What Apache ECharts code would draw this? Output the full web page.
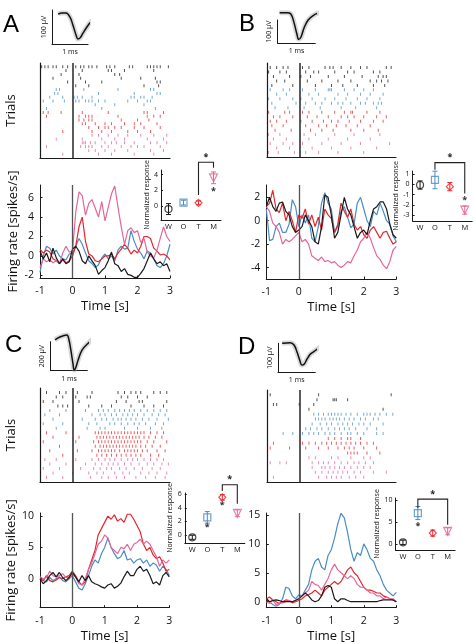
<!DOCTYPE html>
<html><head><meta charset="utf-8">
<script src="https://cdn.jsdelivr.net/npm/echarts@6/dist/echarts.min.js"></script>
<style>html,body{margin:0;padding:0;background:#fff}#c{width:474px;height:644px}</style>
</head><body><div id="c"></div>
<script>
// ---------------- DATA ----------------
const timeAxis = [-1,-0.9,-0.8,-0.7,-0.6,-0.5,-0.4,-0.3,-0.2,-0.1,0,0.1,0.2,0.3,0.4,0.5,0.6,0.7,0.8,0.9,1,1.1,1.2,1.3,1.4,1.5,1.6,1.7,1.8,1.9,2,2.1,2.2,2.3,2.4,2.5,2.6,2.7,2.8,2.9,3];
const xTickLabels = [-1,0,1,2,3];
const catLabels = ['W','O','T','M'];

// firing rates (spikes/s) per condition: W (black), O (blue), T (red), M (pink)
const aBlack = [0.5,-0.3,0.3,-0.6,0.8,-0.2,-0.8,-0.3,-0.8,-0.6,0.7,1.0,0.5,-0.5,-0.8,0,-0.5,-1.0,-1.9,-1.5,-1.2,-0.5,0.4,-0.8,-1.0,-1.6,-1.3,-1.9,-2.0,-2.2,-2.2,-1.8,-1.3,-0.5,0.3,-0.3,-0.8,-0.6,-1.0,-0.8,-1.6];
const aBlue  = [-1.7,0,1.0,0.8,0.2,0.6,0,-0.3,-0.4,0.2,0.3,1.0,1.8,1.2,0.3,-0.5,-0.8,-1.2,-0.9,-0.2,0.2,-0.3,0,-0.5,0.6,1.0,0.7,0.8,2.6,1.5,0.7,0.3,-0.3,0.5,0.3,-0.3,-1.0,-1.2,-0.8,0,1.2];
const aRed   = [0.7,0.3,0.6,0.4,-0.3,-0.5,-0.8,-0.4,-0.7,-0.5,0,1.0,3.0,4.0,1.5,0.2,0,-0.5,-0.6,-0.3,0,0,0.2,-0.3,0.3,0.7,1.2,0.8,0.2,0.6,0.3,1.0,2.0,2.0,1.8,0.8,0.5,0.1,0.2,0,-0.4];
const aPink  = [-1.2,-0.3,-0.6,-0.4,-0.7,-0.5,-0.8,0.3,1.0,0.4,0.5,4.5,6.6,6.2,4.2,5.4,5.8,4.9,4.0,5.6,3.6,5.0,6.4,7.2,5.0,3.0,1.2,2.6,2.9,2.4,2.6,1.4,1.8,0.4,0,-0.2,0.6,1.8,3.0,2.0,1.5];

const bBlack = [1.2,2.0,1.2,0.8,1.5,1.6,0.8,0.5,-0.5,-1.0,-0.8,-0.5,0.5,0,-0.5,-1.8,-2.0,-0.5,2.2,2.0,0.5,-1.5,-1.0,0.5,2.0,1.0,0.5,-0.5,-1.5,-1.0,-0.8,-1.2,0,1.0,1.2,1.6,1.6,1.0,-0.3,-1.2,-1.5];
const bBlue  = [1.0,-1.7,-1.6,-0.5,-0.2,-1.0,-1.0,-0.3,1.8,1.2,-0.5,0.5,-0.2,0.5,-1.5,-1.8,-0.5,1.5,2.4,1.5,1.0,-1.0,-0.5,0.8,1.2,0.3,-0.6,-0.3,1.5,2.0,1.0,0,-0.5,0.8,0.5,1.5,0.8,0,-0.3,-1.3,-1.8];
const bRed   = [1.2,1.5,2.6,1.0,0.7,1.5,0,0.8,0,-1.0,0.5,0.2,1.0,-0.3,0.5,-0.5,0.3,-0.8,1.0,0.5,0.2,-1.0,-0.3,1.5,0.8,0.3,1.0,-0.3,-0.8,-0.5,-1.2,-1.5,-0.8,-0.5,-1.0,-1.5,-1.0,-0.9,-1.5,-2.0,-1.8];
const bPink  = [1.2,0.8,-0.2,-0.5,-1.0,-2.0,-1.6,-1.8,-1.6,-1.3,-1.0,-1.8,-1.6,-2.0,-3.0,-3.2,-3.4,-3.1,-3.5,-3.4,-3.6,-3.5,-3.8,-4.0,-3.8,-3.5,-3.6,-3.0,-2.5,-1.8,-1.5,-1.0,-1.5,-2.3,-3.0,-3.3,-3.8,-4.1,-3.5,-2.5,-2.2];

const cBlack = [0,-0.8,-0.3,0.5,1.0,0.3,1.0,0.2,-0.3,0.2,1.0,0.3,-0.5,0.5,-0.3,0.5,-0.5,-0.8,-1.0,-1.3,-1.5,-1.0,-0.8,-1.5,-1.2,-0.7,0.3,1.2,0.5,0.5,1.5,2.0,1.2,1.5,0.5,-0.8,-0.5,-1.0,0.5,1.0,0.3];
const cBlue  = [0,-0.3,-0.5,0.2,-0.3,0,0.3,-0.3,-0.5,0,0.5,-0.5,-1.5,-1.8,-0.8,0.5,2.0,3.0,2.5,4.0,5.0,6.5,5.0,4.0,3.2,3.5,4.5,3.0,3.2,2.5,3.0,3.2,2.5,3.0,2.0,2.5,2.2,1.2,2.0,1.5,0.5];
const cRed   = [0,-0.3,0.5,-0.3,-0.5,-0.2,0.2,0,0.3,0.5,1.2,0.5,-0.5,-1.0,-0.5,1.5,3.0,4.5,7.0,8.0,9.0,10.0,9.5,10.2,9.2,9.6,9.0,10.3,10.3,9.5,8.5,7.5,5.5,4.5,5.0,3.8,3.2,3.5,2.5,1.2,1.5];
const cPink  = [0.3,0,0.2,1.2,0.5,0.3,0.5,0.8,0.2,0.2,0.8,0.3,-0.8,-1.0,0,1.5,2.5,4.0,5.5,6.0,7.0,6.5,5.0,4.5,4.0,5.0,4.8,5.5,4.5,5.5,5.8,6.3,5.5,6.0,5.5,4.5,3.5,2.0,3.0,2.5,3.0];

const dBlack = [0.5,0,0.2,0.3,0.2,0,0,0,0,0.2,0.5,1.0,1.5,1.0,0.3,0,0.2,1.0,2.5,2.8,2.5,0.5,0,0.5,0.5,0.2,0,0,0,0,0,0,0,0,0,0.2,0.3,0.3,0.3,0.3,0];
const dBlue  = [0.5,0,-0.5,-0.8,-0.5,0.5,2.5,2.3,1.0,0.5,1.2,1.0,2.0,3.0,5.5,7.0,7.5,6.0,5.5,8.0,9.0,11.0,13.5,15.3,14.5,12.0,9.0,7.0,8.5,8.0,10.0,9.0,7.5,7.0,5.5,4.5,3.0,2.0,1.5,1.0,1.6];
const dRed   = [0.5,0.8,0.3,0,-0.3,0,0.3,0.2,-0.2,0,0.2,0.5,1.0,1.2,1.5,2.0,1.5,1.0,2.0,2.5,3.0,3.5,3.0,3.5,4.5,5.5,6.0,5.0,4.5,3.5,2.5,2.0,2.0,1.8,1.5,1.5,1.0,0.8,0.5,0.3,0];
const dPink  = [0,-0.3,0.3,-0.5,-0.3,-0.2,0,0.2,0,0.3,0.5,1.0,1.5,2.0,3.5,3.0,2.8,2.0,3.0,4.0,5.5,6.5,5.5,5.0,4.5,4.0,4.5,4.0,3.0,2.5,2.5,2.0,1.5,1.5,1.0,1.0,0.5,0.8,0.5,0.5,0];

// y tick labels of the firing-rate panels
const aYTicks = [-2,0,2,4,6];
const bYTicks = [-4,-2,0,2];
const cYTicks = [0,5,10];
const dYTicks = [0,5,10,15];

// normalized responses (mean, s.e.m.), stars, significance bracket [from, to, top, leftEnd, rightEnd]
const aNormMean = [-0.4,0.43,0.4,3.6];
const aNormErr  = [0.7,0.3,0.25,0.75];
const aNormStar = [null,null,null,1.9];
const aBracket  = [2,3,5.6,1.4,4.9];
const aNormTicks = [0,2,4];

const bNormMean = [-0.07,0.42,-0.23,-2.5];
const bNormErr  = [0.4,0.85,0.4,0.4];
const bNormStar = [null,null,null,-1.6];
const bBracket  = [1,3,2.1,1.4,-0.9];
const bNormTicks = [-3,-2,-1,0,1];

const cNormMean = [-0.34,2.6,5.55,3.2];
const cNormErr  = [0.3,0.85,0.4,0.5];
const cNormStar = [null,1.1,4.3,null];
const cBracket  = [2,3,7.4,6.5,4.6];
const cNormTicks = [0,2,4,6];

const dNormMean = [0.37,7.1,2.5,2.9];
const dNormErr  = [0.5,1.5,0.7,0.8];
const dNormStar = [null,4.0,null,null];
const dBracket  = [1,3,10.3,8.3,4.4];
const dNormTicks = [0,5,10];

// mean spike waveforms [ms, µV]
const waveA = [[0.17,-12],[0.28,-9],[0.39,-9],[0.5,-21],[0.58,-44],[0.67,-74],[0.72,-85],[0.78,-82],[0.86,-68],[0.97,-50],[1.08,-35],[1.22,-24],[1.33,-15],[1.47,-12]];
const waveB = [[0.05,31],[0.25,31],[0.35,26],[0.43,-9],[0.51,-60],[0.56,-83],[0.62,-73],[0.70,-34],[0.81,0],[0.96,21],[1.10,30],[1.26,31]];
const waveC = [[0.12,12],[0.25,32],[0.44,46],[0.5,12],[0.55,-57],[0.61,-154],[0.64,-195],[0.68,-181],[0.75,-126],[0.86,-57],[1.03,-9],[1.21,26],[1.39,39]];
const waveD = [[0.11,0],[0.33,2],[0.43,-6],[0.51,-30],[0.59,-61],[0.64,-75],[0.70,-72],[0.78,-54],[0.87,-37],[0.96,-29],[1.07,-18],[1.18,-9],[1.31,-2]];

// spike rasters: one string of spike times (s) per trial
const rasterA_W = ["-0.95 -0.85 -0.75 -0.6 -0.5 -0.3 -0.15 0.1 0.25 0.35 0.5 0.6 0.75 1.05 1.15 1.3 1.75 1.85 2.3 2.4 2.5 2.6 2.7 2.95","-0.2 0.3 1.1 1.2 1.6 2.5","-0.35 0.2 1.3 1.45","-0.6 0.25 1.5 2.1 2.55","-0.15 0.4 0.9 2.6 2.7","0.1 0.5 2.2 2.65"];
const rasterA_O = ["-0.5 -0.4 0.35 1.4 2.4 2.5","-0.55 -0.45 0.8 1.9 2.6 2.7","-0.7 -0.3 0.05 0.15 0.3 0.6 1.8 1.9 2.1 2.2 2.45","-0.9 -0.6 -0.25 0.1 0.2 0.4 0.5 0.6 0.8 1.0 1.7 2.0 2.3 2.4","0.7 1.3 2.2","-0.8 0.9 2.55"];
const rasterA_T = ["-0.9 -0.75 -0.35 0.3 1.1 2.2 2.3 2.8","-0.8 0.2 0.4 0.5 0.6 1.4 2.3 2.5 2.7","0.2 0.35 0.5 0.6 1.5 2.0 2.35","0.3 0.4 0.7 1.0 1.2 1.6 1.9 2.1 2.6","0.5 0.8 1.0 1.1 1.3 1.5 1.9 2.2 2.7","-0.3 0.6 0.9 1.2 1.7 2.0 2.4"];
const rasterA_M = ["0.6 0.8 1.1 1.4 1.7 2.1 2.5 2.9","-0.5 0.3 0.9 1.3 1.6 2.3 2.8","0.3 0.35 0.4 0.55 0.7 1.0 1.2 1.35 1.6 1.9 2.4 2.6 2.9","-0.8 0.25 0.4 0.5 0.6 0.9 1.1 1.5 1.8 2.0 2.2 2.7","0.5 0.7 1.0 1.3 1.7 2.4 2.8","-0.3 0.8 1.2 1.9 2.5"];

const rasterB_W = ["-0.9 -0.7 -0.5 -0.35 0.1 0.3 0.8 0.95 1.05 1.3 1.6 1.9 2.1 2.7 2.85","-0.95 -0.6 -0.4 0.2 0.45 0.6 1.1 1.5 1.7 2.3 2.5","-0.8 -0.3 0.05 0.35 0.9 1.4 1.95 2.45 2.6 2.7","-0.7 -0.45 0.25 0.7 1.2 1.6 2.2 2.4 2.55 2.75","-0.85 -0.2 0.5 1.0 1.35 1.8 2.3 2.65"];
const rasterB_O = ["-0.9 -0.5 -0.3 0.1 0.5 0.9 0.95 1.0 1.4 1.7 2.0 2.3","-0.7 -0.4 0.3 0.6 1.2 1.5 1.9 2.2 2.6","-0.95 -0.6 -0.2 0.05 0.4 0.8 1.1 1.45 1.8 2.1 2.5","-0.85 -0.1 0.2 0.5 0.7 1.0 1.2 1.35 1.6 1.9 2.05 2.3 2.45 2.55","-0.75 -0.35 0.15 0.65 1.3 1.75 2.4"];
const rasterB_T = ["-0.95 -0.45 -0.3 0.1 0.3 0.7 1.1 1.4 1.6 1.65 2.1 2.5","-0.8 -0.6 -0.2 0.25 0.55 0.9 1.3 1.5 1.7 2.0 2.4 2.7","-0.9 -0.7 -0.4 0.05 0.4 0.75 1.0 1.2 1.55 1.9 2.3 2.6","-0.85 -0.5 0.2 0.6 0.85 1.15 1.45 1.8 2.2","-0.75 -0.25 0.35 0.7 1.05 1.6 2.0 2.45"];
const rasterB_M = ["-0.95 -0.6 0.15 0.5 1.1 1.7 2.5","-0.8 -0.4 0.3 0.9 1.5 2.2","-0.9 -0.5 -0.2 0.1 0.7 1.3 1.9 2.8","-0.7 -0.3 0.4 1.0 1.6 2.4","-0.95 -0.65 -0.15 0.2 0.6 1.2 2.0"];

const rasterC_W = ["-0.8 -0.4 -0.2 0.15 0.6 1.4 1.6 1.8 1.95 2.1 2.5 2.7 2.9","-0.5 -0.3 0.1 0.45 0.55 1.5 1.7 2.0 2.3","-0.9 -0.6 0.2 1.35 1.65 2.05 2.15 2.9","-0.45 -0.3 -0.15 0.5 0.9 1.2 1.8 2.2 2.5 2.8"];
const rasterC_O = ["-0.7 -0.2 0.4 0.8 0.95 1.1 1.3 1.45 1.6 1.75 1.9 2.1 2.3 2.5 2.7 2.9","-0.85 -0.4 0.6 0.85 1.0 1.2 1.35 1.55 1.7 1.85 2.0 2.2 2.45 2.65 2.85","-0.6 0.3 0.7 0.9 1.05 1.25 1.4 1.5 1.65 1.8 1.95 2.15 2.35 2.6 2.95","-0.9 -0.3 0.5 0.75 1.15 1.3 1.5 1.7 1.9 2.05 2.25 2.55 2.8","-0.5 0.45 0.85 1.0 1.6 2.0 2.4 2.75"];
const rasterC_T = ["-0.8 -0.2 0.7 0.8 0.9 1.0 1.1 1.2 1.3 1.4 1.5 1.6 1.7 1.8 1.9 2.0 2.1 2.2 2.4 2.6 2.8","-0.6 0.2 0.75 0.85 0.95 1.05 1.15 1.25 1.35 1.45 1.55 1.65 1.75 1.85 1.95 2.05 2.2 2.35 2.55 2.75","-0.9 0.1 0.65 0.8 0.9 1.0 1.1 1.2 1.3 1.4 1.5 1.6 1.7 1.8 1.9 2.0 2.1 2.3 2.5 2.9","-0.4 0.7 0.85 0.95 1.05 1.15 1.25 1.35 1.45 1.55 1.65 1.75 1.85 1.95 2.1 2.25 2.45 2.7","-0.7 0.15 0.6 0.8 0.9 1.0 1.1 1.2 1.3 1.45 1.6 1.7 1.8 1.9 2.0 2.15 2.3 2.6 2.85","-0.3 0.75 0.9 1.05 1.2 1.35 1.5 1.65 1.8 1.95 2.1 2.4 2.65"];
const rasterC_M = ["-0.85 -0.5 0.1 0.6 0.8 1.0 1.15 1.3 1.5 1.7 1.85 2.0 2.2 2.4 2.6 2.8","-0.7 -0.2 0.4 0.7 0.9 1.1 1.25 1.4 1.6 1.8 2.05 2.3 2.5 2.75 2.95","-0.9 -0.4 0.25 0.65 0.85 1.05 1.2 1.45 1.65 1.9 2.15 2.45 2.7","-0.6 0 0.5 0.75 0.95 1.3 1.55 1.75 2.1 2.35 2.6 2.9","-0.8 -0.3 0.55 0.9 1.1 1.35 1.6 1.95 2.25 2.55 2.85"];

const rasterD_W = ["-0.9 0.6 2.85","0.55 1.05 1.1 1.15 1.5","-0.8 -0.7 0 0.45","0.3 2.6"];
const rasterD_O = ["0.45 0.6 0.75 0.9 1.0 1.1 1.2 1.3 1.45 1.6 1.8 2.0 2.1 2.2 2.35 2.5 2.7 2.9","0.5 0.6 0.7 0.8 0.95 1.05 1.15 1.25 1.4 1.55 1.7 1.9 2.05 2.3 2.45","0.4 0.65 0.85 1.0 1.2 1.35 1.5 1.65 1.85 2.0 2.2 2.6","0.2 0.35 0.55 0.7 0.9 1.1 1.25 1.4 1.55 1.75 2.1 2.4","-0.5 -0.2 0.1 0.3 0.45 0.6 0.8 0.95 1.1 1.3 1.5 1.6 1.8 2.0 2.4 2.6"];
const rasterD_T = ["0.9 1.1 1.3 1.5 1.6 1.9","-0.8 0.1 0.3 0.5 0.7 0.85 1.0 1.15 1.3 1.45 1.6 1.75 1.9 2.1 2.3","-0.9 -0.3 0.2 0.6 0.9 1.2 1.4 1.55 1.7 2.0 2.4","1.5 1.6 1.7 1.8 2.1 2.5"];
const rasterD_M = ["0.3 0.5 1.0 1.2 1.6 2.0 2.2","-0.9 -0.6 -0.4 0.4 0.6 0.75 0.9 1.1 1.3 1.5 1.7 1.85 2.05 2.3","0.4 0.7 0.8 0.95 1.1 1.25 1.4 1.6 1.8 2.0 2.2","0.5 0.7 0.9 1.05 1.2 1.35 1.5 1.7 1.9 2.3 2.7","-0.8 0.6 0.85 1.0 1.15 1.3 1.55 1.75 2.0"];

// ---------------- STYLE / LAYOUT ----------------
const FONT = '"Open Sans", "Liberation Sans", sans-serif';
const COLORS = ['#1a1a1a', '#4a8dc3', '#e5262c', '#e3679b'];
const AX = '#1a1a1a';
const option = {animation:false, backgroundColor:'#fff', textStyle:{fontFamily:FONT}, grid:[], xAxis:[], yAxis:[], series:[], graphic:[]};

function addGrid(rect, xa, ya) {
  const i = option.grid.length;
  option.grid.push({left:rect[0], top:rect[1], width:rect[2], height:rect[3], containLabel:false});
  xa.gridIndex = i; ya.gridIndex = i;
  option.xAxis.push(xa); option.yAxis.push(ya);
  return i;
}
const lineAx = (w) => ({show:true, onZero:false, lineStyle:{color:AX, width:w||1}});
const noTick = {show:false}, noLab = {show:false}, noSplit = {show:false};

function addWave(rect, wave, scale) {
  const g = addGrid(rect,
    {type:'value', min:0, max:1, axisLine:lineAx(1), axisTick:noTick, axisLabel:noLab, splitLine:noSplit,
     name:'1 ms', nameLocation:'middle', nameGap:4.5, nameTextStyle:{fontSize:7, color:'#111', fontFamily:FONT}},
    {type:'value', min:-scale, max:0, axisLine:lineAx(1), axisTick:noTick, axisLabel:noLab, splitLine:noSplit,
     name:scale + ' µV', nameLocation:'middle', nameGap:5, nameRotate:90, nameTextStyle:{fontSize:7, color:'#111', fontFamily:FONT}});
  option.series.push({type:'line', xAxisIndex:g, yAxisIndex:g, data:wave, showSymbol:false, smooth:0.4, clip:false, silent:true,
    lineStyle:{color:'rgba(160,160,160,0.4)', width:5}, z:2});
  option.series.push({type:'line', xAxisIndex:g, yAxisIndex:g, data:wave, showSymbol:false, smooth:0.4, clip:false, silent:true,
    lineStyle:{color:'#111', width:1.5}, z:3});
}

function addRaster(rect, groups, withName) {
  const total = groups.reduce((s, gr) => s + gr.length, 0);
  const g = addGrid(rect,
    {type:'value', min:-1, max:3, axisLine:lineAx(1.2), axisTick:noTick, axisLabel:noLab, splitLine:noSplit},
    {type:'value', min:0, max:total + 1, inverse:true, axisLine:lineAx(1.2), axisTick:noTick, axisLabel:noLab, splitLine:noSplit,
     name:withName ? 'Trials' : '', nameLocation:'middle', nameGap:22, nameRotate:90, nameTextStyle:{fontSize:13, color:'#111', fontFamily:FONT}});
  let r = 1;
  groups.forEach((rows, k) => {
    const pts = [];
    rows.forEach(s => { s.trim().split(/\s+/).forEach(t => pts.push([+t, r])); r++; });
    const ser = {type:'scatter', xAxisIndex:g, yAxisIndex:g, data:pts, symbol:'rect', symbolSize:[1, 3], silent:true,
      itemStyle:{color:COLORS[k], opacity:0.75}};
    if (k === 0) ser.markLine = {silent:true, symbol:'none', label:{show:false}, animation:false,
      lineStyle:{color:'#333', width:1.6, type:'solid'}, data:[{xAxis:0}]};
    option.series.push(ser);
  });
}

function addMain(rect, lines, yMin, yMax, yTicks, withName) {
  const g = addGrid(rect,
    {type:'value', min:-1, max:3, interval:1, axisLine:lineAx(1), axisTick:{show:true, inside:true, length:2.5, lineStyle:{color:AX}},
     axisLabel:{fontSize:10.5, color:'#111', margin:8, fontFamily:FONT}, splitLine:noSplit,
     name:'Time [s]', nameLocation:'middle', nameGap:22, nameTextStyle:{fontSize:13, color:'#111', fontFamily:FONT}},
    {type:'value', min:yMin, max:yMax, axisLine:lineAx(1),
     axisTick:{show:true, inside:true, length:2.5, customValues:yTicks, lineStyle:{color:AX}},
     axisLabel:{customValues:yTicks, fontSize:10.5, color:'#111', margin:6, fontFamily:FONT}, splitLine:noSplit,
     name:withName ? 'Firing rate [spikes/s]' : '', nameLocation:'middle', nameGap:20, nameRotate:90,
     nameTextStyle:{fontSize:13, color:'#111', fontFamily:FONT}});
  lines.forEach((vals, k) => {
    const ser = {type:'line', xAxisIndex:g, yAxisIndex:g, data:timeAxis.map((t, i) => [t, vals[i]]), showSymbol:false, silent:true,
      lineStyle:{color:COLORS[k], width:1.2}, z:3 + (k === 0 ? 1 : 0)};
    if (k === 0) ser.markLine = {silent:true, symbol:'none', label:{show:false}, animation:false,
      lineStyle:{color:'#555', width:1.3, type:'solid'}, data:[{xAxis:0}]};
    option.series.push(ser);
  });
}

const SYMS = ['circle', 'rect', 'diamond', 'triangle'];
function addInset(rect, means, errs, stars, bracket, yMin, yMax, yTicks) {
  const g = addGrid(rect,
    {type:'category', data:catLabels, boundaryGap:true, axisLine:lineAx(1), axisTick:noTick,
     axisLabel:{fontSize:7.5, color:'#111', margin:3, fontFamily:FONT}, splitLine:noSplit},
    {type:'value', min:yMin, max:yMax, axisLine:lineAx(1),
     axisTick:{show:true, inside:true, length:2, customValues:yTicks, lineStyle:{color:AX}},
     axisLabel:{customValues:yTicks, fontSize:7, color:'#111', margin:3, fontFamily:FONT}, splitLine:noSplit,
     name:'Normalized response', nameLocation:'middle', nameGap:11, nameRotate:90,
     nameTextStyle:{fontSize:7, color:'#111', fontFamily:FONT}});
  option.series.push({type:'custom', xAxisIndex:g, yAxisIndex:g, silent:true, encode:{x:0, y:1},
    data:means.map((m, i) => [i, m, errs[i]]),
    renderItem:(params, api) => {
      const i = api.value(0), m = api.value(1), e = api.value(2);
      const p1 = api.coord([i, m + e]), p2 = api.coord([i, m - e]);
      const st = {stroke:COLORS[i], lineWidth:1, fill:null};
      return {type:'group', children:[
        {type:'line', shape:{x1:p1[0], y1:p1[1], x2:p2[0], y2:p2[1]}, style:st},
        {type:'line', shape:{x1:p1[0] - 2.5, y1:p1[1], x2:p1[0] + 2.5, y2:p1[1]}, style:st},
        {type:'line', shape:{x1:p2[0] - 2.5, y1:p2[1], x2:p2[0] + 2.5, y2:p2[1]}, style:st}]};
    }});
  option.series.push({type:'scatter', xAxisIndex:g, yAxisIndex:g, silent:true, z:4,
    data:means.map((m, i) => ({value:[i, m], symbol:SYMS[i], symbolRotate:i === 3 ? 180 : 0,
      symbolSize:i === 3 ? 8 : 7, itemStyle:{color:'rgba(255,255,255,0)', borderColor:COLORS[i], borderWidth:1.2}}))});
  const starPts = [];
  stars.forEach((s, i) => { if (s !== null) starPts.push([i, s]); });
  option.series.push({type:'custom', xAxisIndex:g, yAxisIndex:g, silent:true, encode:{x:0, y:1}, data:starPts,
    renderItem:(params, api) => {
      const p = api.coord([api.value(0), api.value(1)]);
      return {type:'text', x:p[0], y:p[1], style:{text:'*', fill:'#333', font:'bold 9px ' + FONT, align:'center', verticalAlign:'middle'}};
    }});
  option.series.push({type:'custom', xAxisIndex:g, yAxisIndex:g, silent:true, encode:{x:[0, 1], y:[2, 3, 4]}, data:[bracket],
    renderItem:(params, api) => {
      const a = api.value(0), b = api.value(1), top = api.value(2), lb = api.value(3), rb = api.value(4);
      const p1 = api.coord([a, lb]), p2 = api.coord([a, top]), p3 = api.coord([b, top]), p4 = api.coord([b, rb]);
      return {type:'group', children:[
        {type:'polyline', shape:{points:[p1, p2, p3, p4]}, style:{stroke:'#222', lineWidth:1.1, fill:null}},
        {type:'text', x:(p2[0] + p3[0]) / 2, y:p2[1] - 5, style:{text:'*', fill:'#222', font:'bold 9px ' + FONT, align:'center', verticalAlign:'middle'}}]};
    }});
}

function letter(t, x, y) {
  option.graphic.push({type:'text', x:x, y:y, silent:true,
    style:{text:t, font:'24px "Liberation Sans", Arial, sans-serif', fill:'#000', align:'left', verticalAlign:'middle'}});
}

// Panel A
letter('A', 3, 25);
addWave([52, 10, 36, 34], waveA, 100);
addRaster([40, 63, 130, 95], [rasterA_W, rasterA_O, rasterA_T, rasterA_M], true);
addMain([40, 185, 130, 93], [aBlack, aBlue, aRed, aPink], -2.27, 7.3, aYTicks, true);
addInset([161, 170, 60, 50], aNormMean, aNormErr, aNormStar, aBracket, -1.8, 4.6, aNormTicks);

// Panel B
letter('B', 239, 24);
addWave([277.7, 20, 37.6, 23.3], waveB, 100);
addRaster([267, 63, 129, 94], [rasterB_W, rasterB_O, rasterB_T, rasterB_M], false);
addMain([266.3, 185, 130, 94], [bBlack, bBlue, bRed, bPink], -4.98, 3.05, bYTicks, false);
addInset([412.6, 171, 59.6, 50], bNormMean, bNormErr, bNormStar, bBracket, -3.56, 1.29, bNormTicks);

// Panel C
letter('C', 5, 345);
addWave([50.7, 341.7, 36.6, 29], waveC, 200);
addRaster([40, 388, 130, 94], [rasterC_W, rasterC_O, rasterC_T, rasterC_M], true);
addMain([40, 513, 129.3, 94.7], [cBlack, cBlue, cRed, cPink], -4.63, 10.5, cYTicks, true);
addInset([184.8, 493, 60, 50], cNormMean, cNormErr, cNormStar, cBracket, -1.18, 6.19, cNormTicks);

// Panel D
letter('D', 238, 347);
addWave([278, 343.3, 37.3, 29], waveD, 100);
addRaster([267, 390, 129, 92], [rasterD_W, rasterD_O, rasterD_T, rasterD_M], false);
addMain([266.3, 513, 130, 94.7], [dBlack, dBlue, dRed, dPink], -1.04, 15.35, dYTicks, false);
addInset([395.5, 498, 59.6, 52], dNormMean, dNormErr, dNormStar, dBracket, -1.38, 10.55, dNormTicks);

const chart = echarts.init(document.getElementById('c'), null, {renderer:'canvas'});
chart.setOption(option);
</script></body></html>
